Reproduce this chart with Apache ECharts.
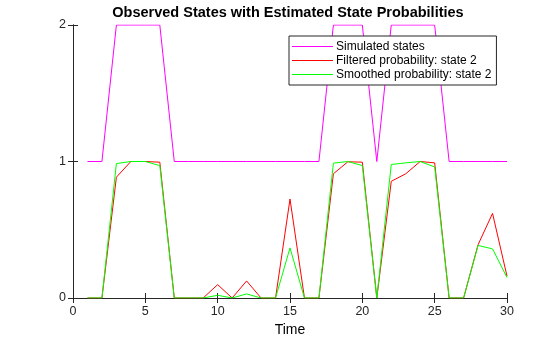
<!DOCTYPE html>
<html><head><meta charset="utf-8">
<script src="https://cdn.jsdelivr.net/npm/echarts@6/dist/echarts.min.js"></script>
<style>html,body{margin:0;padding:0;background:#fff}#c{width:560px;height:337px}</style>
</head><body><div id="c"></div>
<script>
const time = [1,2,3,4,5,6,7,8,9,10,11,12,13,14,15,16,17,18,19,20,21,22,23,24,25,26,27,28,29,30];
const simulatedStates = [1,1,2,2,2,2,1,1,1,1,1,1,1,1,1,1,1,2,2,2,1,2,2,2,2,1,1,1,1,1];
const filteredProb = [0,0,0.885,1,1,0.995,0,0,0,0.098,0,0.125,0,0,0.725,0,0,0.91,0.998,0.995,0,0.855,0.91,1,0.99,0,0,0.39,0.62,0.16];
const smoothedProb = [0,0,0.985,1,1,0.97,0,0,0,0.02,0,0.03,0,0,0.367,0,0,0.988,1,0.97,0,0.978,0.99,1,0.96,0,0,0.385,0.36,0.15];
const xTicks = [0,5,10,15,20,25,30];
const yTicks = [0,1,2];
const names = ['Simulated states','Filtered probability: state 2','Smoothed probability: state 2'];

const pair = (ys) => time.map((t,i)=>[t, ys[i]]);
const font = 'Liberation Sans, Arial, Helvetica, sans-serif';
const axisCol = '#262626';
const chart = echarts.init(document.getElementById('c'), null, {renderer:'canvas'});
const mkSeries = (name, data, color) => ({
  name, type:'line', data: pair(data), showSymbol:false, symbol:'none',
  lineStyle:{color, width:1}, itemStyle:{color}, animation:false
});
chart.setOption({
  animation:false,
  title:{text:'Observed States with Estimated State Probabilities', left:288, top:5, padding:0, textAlign:'center',
    textStyle:{fontFamily:font, fontSize:14.5, fontWeight:'bold', color:'#000'}},
  grid:{left:73, right:53, top:25, bottom:39, containLabel:false, outerBoundsMode:'none'},
  legend:{orient:'vertical', left:289, top:36, padding:[4,5,4,3], itemGap:1,
    backgroundColor:'#fff', borderColor:'#262626', borderWidth:1, borderRadius:0,
    itemWidth:41, itemHeight:1, icon:'rect',
    textStyle:{fontFamily:font, fontSize:12, color:'#000', lineHeight:13, padding:[0,0,0,-2]},
    data:names},
  xAxis:[{type:'value', min:0, max:30, interval:5, name:'Time', nameLocation:'middle', nameGap:23,
    nameTextStyle:{fontFamily:font, fontSize:14, color:'#000'},
    axisLine:{lineStyle:{color:axisCol}}, axisTick:{inside:true, length:5, lineStyle:{color:axisCol}},
    axisLabel:{fontFamily:font, fontSize:12.5, color:'#262626', margin:7,
      formatter:v=>xTicks.includes(v)?String(v):''},
    splitLine:{show:false}},
    {type:'value', position:'top', min:0, max:30, interval:5,
    axisLine:{show:true, lineStyle:{color:axisCol}}, axisTick:{inside:true, length:5, lineStyle:{color:axisCol}},
    axisLabel:{show:false}, splitLine:{show:false}}],
  yAxis:[{type:'value', min:0, max:2, interval:1,
    axisLine:{show:true, lineStyle:{color:axisCol}}, axisTick:{show:true, inside:true, length:5, lineStyle:{color:axisCol}},
    axisLabel:{fontFamily:font, fontSize:12.5, color:'#262626', margin:7,
      formatter:v=>yTicks.includes(v)?String(v):''},
    splitLine:{show:false}},
    {type:'value', position:'right', min:0, max:2, interval:1,
    axisLine:{show:true, lineStyle:{color:axisCol}}, axisTick:{show:true, inside:true, length:5, lineStyle:{color:axisCol}},
    axisLabel:{show:false}, splitLine:{show:false}}],
  series:[
    mkSeries(names[0], simulatedStates, '#ff00ff'),
    mkSeries(names[1], filteredProb, '#ff0000'),
    mkSeries(names[2], smoothedProb, '#00ff00')
  ]
});
</script></body></html>
